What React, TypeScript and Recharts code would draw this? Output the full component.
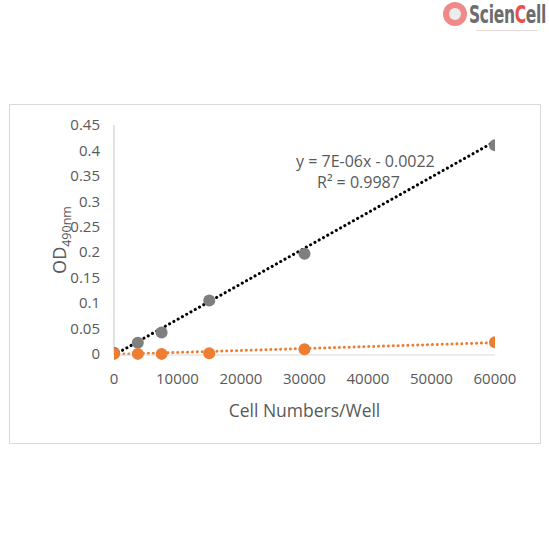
import React from 'react';
import { ComposedChart, Scatter, Line, XAxis, YAxis } from 'recharts';

const cellCounts = [0, 3750, 7500, 15000, 30000, 60000];
const grayOD = [0.002, 0.022, 0.042, 0.105, 0.197, 0.41];
const orangeOD = [0.0, 0.0, 0.0, 0.001, 0.009, 0.023];

const trendX = [0, 60000];
const grayTrend = [-0.0022, 0.4178];
const orangeTrend = [-0.001, 0.022];

const xTicks = [0, 10000, 20000, 30000, 40000, 50000, 60000];
const yTicks = [0, 0.05, 0.1, 0.15, 0.2, 0.25, 0.3, 0.35, 0.4, 0.45];

const FONT = '"Open Sans", sans-serif';
const TEXT = '#595959';
const GRAY = '#7f7f7f';
const ORANGE = '#ED7D31';

const grayData = cellCounts.map((x, i) => ({ x, y: grayOD[i] }));
const orangeData = cellCounts.map((x, i) => ({ x, y: orangeOD[i] }));
const grayTrendData = trendX.map((x, i) => ({ x, y: grayTrend[i] }));
const orangeTrendData = trendX.map((x, i) => ({ x, y: orangeTrend[i] }));

const dot = (fill: string, r: number) => (props: any) =>
  <circle cx={props.cx} cy={props.cy} r={r} fill={fill} />;

export default function App() {
  return (
    <div style={{ position: 'absolute', left: 0, top: 0, width: 549, height: 549, background: '#fff', fontFamily: FONT }}>
      {/* logo */}
      <div style={{ position: 'absolute', left: 443, top: 2, width: 24, height: 24, borderRadius: 12, background: '#f08a8a' }}>
        <div style={{ position: 'absolute', left: 6, top: 6, width: 12, height: 12, borderRadius: 6, background: '#ececec' }} />
      </div>
      <div style={{ position: 'absolute', left: 469, top: 3, lineHeight: '24px', height: 24, transform: 'scaleX(0.62)', transformOrigin: 'left top', fontFamily: '"DejaVu Sans", sans-serif', fontWeight: 'bold', fontSize: 25, color: '#6d6d6d', letterSpacing: -0.5, whiteSpace: 'nowrap' }}>
        Scien<span style={{ color: '#e8504a' }}>C</span>ell
      </div>
      <div style={{ position: 'absolute', left: 476, top: 30, width: 62, height: 1, background: '#eadada' }} />

      {/* chart frame */}
      <div style={{ position: 'absolute', left: 9, top: 104, width: 530, height: 338, border: '1px solid #d9d9d9' }}>
        <ComposedChart width={530} height={338} margin={{ top: 20, right: 45, left: 0, bottom: 0 }}>
          <XAxis
            type="number"
            dataKey="x"
            domain={[0, 60000]}
            ticks={xTicks}
            allowDataOverflow
            stroke="#d9d9d9"
            tickLine={false}
            tickSize={0}
            tickMargin={18}
            height={88}
            tick={{ fill: TEXT, fontSize: 15, fontFamily: FONT }}
            label={{ value: 'Cell Numbers/Well', position: 'insideBottom', offset: 26, fill: TEXT, fontSize: 17.5, fontFamily: FONT }}
          />
          <YAxis
            type="number"
            dataKey="y"
            domain={[0, 0.45]}
            ticks={yTicks}
            stroke="#c8c8c8"
            tickLine={false}
            tickSize={0}
            tickMargin={14}
            width={104}
            tick={{ fill: TEXT, fontSize: 15, fontFamily: FONT }}
            label={(p: any) => {
              const vb = p.viewBox;
              const cx = 56;
              const cy = vb.y + vb.height / 2;
              return (
                <text transform={`translate(${cx},${cy}) rotate(-90)`} textAnchor="middle" fill={TEXT} fontFamily={FONT} fontSize={18}>
                  OD<tspan fontSize={12.5} dy={5}>490nm</tspan>
                </text>
              );
            }}
          />
          <Line data={grayTrendData} dataKey="y" type="linear" stroke="#000" strokeWidth={3} strokeDasharray="0.1 4.8" strokeLinecap="round" dot={false} activeDot={false} isAnimationActive={false} />
          <Line data={orangeTrendData} dataKey="y" type="linear" stroke={ORANGE} strokeWidth={3} strokeDasharray="0.1 4.8" strokeLinecap="round" dot={false} activeDot={false} isAnimationActive={false} />
          <Scatter data={grayData} dataKey="y" fill={GRAY} shape={dot(GRAY, 6)} isAnimationActive={false} />
          <Scatter data={orangeData} dataKey="y" fill={ORANGE} shape={dot(ORANGE, 6)} isAnimationActive={false} />
        </ComposedChart>
        <div style={{ position: 'absolute', left: 286, top: 46, fontSize: 16, lineHeight: '20px', color: TEXT, whiteSpace: 'nowrap' }}>y = 7E-06x - 0.0022</div>
        <div style={{ position: 'absolute', left: 307, top: 67, fontSize: 16, lineHeight: '20px', color: TEXT, whiteSpace: 'nowrap' }}>R² = 0.9987</div>
      </div>
    </div>
  );
}
